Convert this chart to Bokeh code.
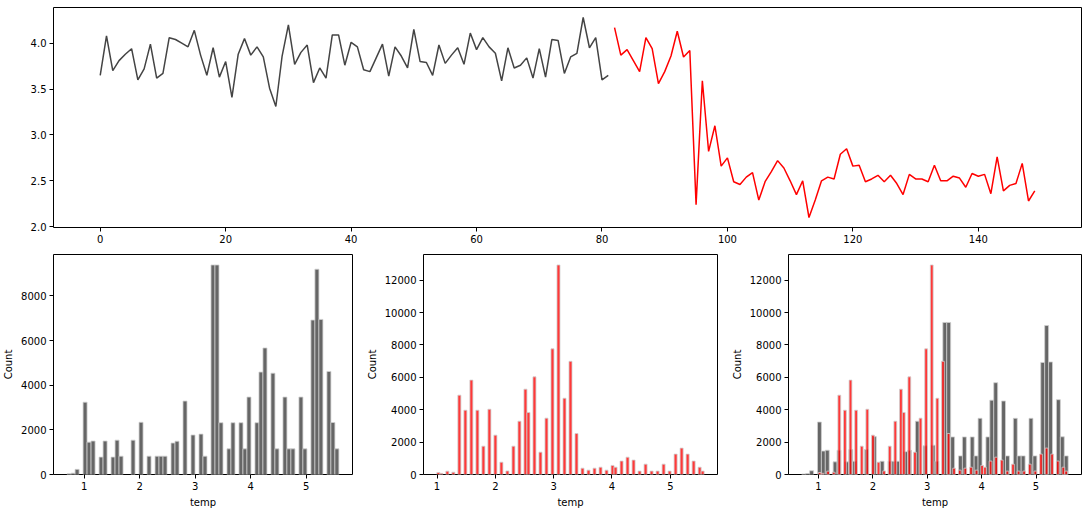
import numpy as np
from bokeh.plotting import figure
from bokeh.layouts import column, row
from bokeh.models import Range1d, FixedTicker, PrintfTickFormatter
from bokeh.embed import file_html
from bokeh.resources import INLINE

# ---------------- data ----------------
temp_before = [3.65, 4.08, 3.70, 3.81, 3.88, 3.94, 3.60, 3.72, 3.99, 3.62,
               3.67, 4.06, 4.04, 4.00, 3.96, 4.14, 3.87, 3.65, 3.95, 3.63,
               3.80, 3.41, 3.88, 4.05, 3.87, 3.96, 3.85, 3.51, 3.31, 3.86,
               4.20, 3.77, 3.90, 3.98, 3.57, 3.73, 3.62, 4.09, 4.09, 3.76,
               4.01, 3.96, 3.71, 3.69, 3.84, 3.99, 3.64, 3.96, 3.86, 3.73,
               4.15, 3.80, 3.79, 3.65, 3.98, 3.78, 3.87, 3.95, 3.77, 4.11,
               3.93, 4.06, 3.96, 3.89, 3.59, 3.95, 3.73, 3.76, 3.84, 3.62,
               3.94, 3.63, 4.04, 4.03, 3.67, 3.85, 3.89, 4.28, 3.95, 4.06,
               3.60, 3.65]
temp_after = [4.17, 3.87, 3.93, 3.81, 3.69, 4.06, 3.94, 3.56,
              3.69, 3.86, 4.13, 3.85, 3.92, 2.24, 3.59, 2.82, 3.10, 2.66,
              2.75, 2.49, 2.46, 2.54, 2.59, 2.29, 2.49, 2.60, 2.72, 2.64,
              2.50, 2.35, 2.50, 2.10, 2.29, 2.50, 2.54, 2.52, 2.79, 2.85,
              2.66, 2.67, 2.49, 2.52, 2.56, 2.49, 2.56, 2.47, 2.35, 2.57,
              2.52, 2.52, 2.49, 2.67, 2.50, 2.50, 2.55, 2.53, 2.43, 2.58,
              2.55, 2.57, 2.36, 2.76, 2.39, 2.45, 2.47, 2.69, 2.28, 2.39]

black_min, black_max = 0.694, 5.591
black_counts = [30, 60, 230, 0, 3240, 1450, 1500, 0, 780, 1500,
                0, 780, 1540, 820, 0, 0, 1540, 0, 2340, 0,
                820, 0, 820, 820, 820, 0, 1410, 1490, 0, 3290,
                0, 1770, 0, 1810, 820, 0, 9390, 9390, 2320, 0,
                1150, 2320, 0, 2320, 1150, 3470, 0, 2320, 4590, 5670,
                0, 4540, 1150, 0, 3470, 1150, 1150, 0, 3470, 1150,
                0, 6920, 9200, 6950, 0, 4620, 2330, 1150]

red_min, red_max = 0.997, 5.58
red_counts = [124, 70, 0, 206, 0, 140, 0, 4900, 0, 3970,
              0, 5830, 0, 3970, 0, 1750, 0, 4030, 0, 2430,
              0, 760, 0, 220, 0, 1750, 0, 3290, 0, 5270,
              3830, 0, 6030, 0, 1380, 0, 3480, 0, 7760, 0,
              12940, 0, 4710, 0, 6990, 0, 2530, 0, 390, 0,
              270, 0, 390, 0, 450, 0, 270, 0, 560, 450,
              0, 830, 0, 1070, 0, 890, 0, 210, 0, 640,
              0, 210, 0, 210, 0, 640, 0, 210, 0, 1260,
              0, 1630, 0, 1260, 0, 830, 0, 450, 210]

x_ticks_top = [0, 20, 40, 60, 80, 100, 120, 140]
y_ticks_top = [2.0, 2.5, 3.0, 3.5, 4.0]
hist_x_ticks = [1, 2, 3, 4, 5]
black_y_ticks = [0, 2000, 4000, 6000, 8000]
red_y_ticks = [0, 2000, 4000, 6000, 8000, 10000, 12000]

FONT = "DejaVu Sans"
LINE_BLACK = "#444444"
LINE_RED = "#ff0000"


def style(p):
    p.toolbar_location = None
    p.xgrid.visible = False
    p.ygrid.visible = False
    p.outline_line_color = "black"
    p.outline_line_width = 1
    p.outline_line_alpha = 1
    p.background_fill_color = "white"
    p.border_fill_color = "white"
    for ax in list(p.xaxis) + list(p.yaxis):
        ax.axis_line_color = None
        ax.major_tick_in = 0
        ax.major_tick_out = 4
        ax.major_tick_line_color = "black"
        ax.minor_tick_line_color = None
        ax.major_label_text_font = FONT
        ax.major_label_text_font_size = "10px"
        ax.major_label_text_color = "black"
        ax.major_label_standoff = 3
        ax.axis_label_text_font = FONT
        ax.axis_label_text_font_size = "10px"
        ax.axis_label_text_font_style = "normal"
        ax.axis_label_text_color = "black"
        ax.axis_label_standoff = 4


# ---------------- top line chart ----------------
x_before = list(range(len(temp_before)))
x_after = list(range(len(temp_before), len(temp_before) + len(temp_after)))
n_all = len(temp_before) + len(temp_after)
all_vals = temp_before + temp_after
ymin, ymax = min(all_vals), max(all_vals)
ypad = (ymax - ymin) * 0.05
xpad = (n_all - 1) * 0.05

top = figure(width=1088, height=250, output_backend="svg", toolbar_location=None,
             x_range=Range1d(-xpad, n_all - 1 + xpad),
             y_range=Range1d(ymin - ypad, ymax + ypad),
             min_border_left=53, min_border_right=7, min_border_top=7,
             min_border_bottom=23)
top.line(x_before, temp_before, line_color=LINE_BLACK, line_width=1.5)
top.line(x_after, temp_after, line_color=LINE_RED, line_width=1.5)
style(top)
top.xaxis.ticker = FixedTicker(ticks=x_ticks_top)
top.yaxis.ticker = FixedTicker(ticks=y_ticks_top)
top.yaxis.formatter = PrintfTickFormatter(format="%.1f")

# ---------------- histograms ----------------
black_edges = np.linspace(black_min, black_max, len(black_counts) + 1)
red_edges = np.linspace(red_min, red_max, len(red_counts) + 1)


def bars(p, edges, counts, color, alpha):
    c = np.array(counts, dtype=float)
    m = c > 0
    p.quad(left=edges[:-1][m], right=edges[1:][m], top=c[m], bottom=0,
           fill_color=color, fill_alpha=alpha,
           line_color="#cfcfcf", line_alpha=0.8, line_width=1)


bx_pad = (black_max - black_min) * 0.05
rx_pad = (red_max - red_min) * 0.05
by_top = max(black_counts) * 1.05
ry_top = max(red_counts) * 1.05

f1 = figure(width=363, height=262, output_backend="svg", toolbar_location=None,
            x_range=Range1d(black_min - bx_pad, black_max + bx_pad),
            y_range=Range1d(0, by_top),
            min_border_left=53, min_border_right=11, min_border_top=4,
            min_border_bottom=38)
bars(f1, black_edges, black_counts, "black", 0.6)

f2 = figure(width=365, height=262, output_backend="svg", toolbar_location=None,
            x_range=Range1d(red_min - rx_pad, red_max + rx_pad),
            y_range=Range1d(0, ry_top),
            min_border_left=55, min_border_right=11, min_border_top=4,
            min_border_bottom=38)
bars(f2, red_edges, red_counts, "red", 0.78)

f3 = figure(width=360, height=262, output_backend="svg", toolbar_location=None,
            x_range=Range1d(black_min - bx_pad, black_max + bx_pad),
            y_range=Range1d(0, ry_top),
            min_border_left=54, min_border_right=7, min_border_top=4,
            min_border_bottom=38)
bars(f3, black_edges, black_counts, "black", 0.6)
bars(f3, red_edges, red_counts, "red", 0.78)

for f, yt in ((f1, black_y_ticks), (f2, red_y_ticks), (f3, red_y_ticks)):
    style(f)
    f.xaxis.ticker = FixedTicker(ticks=hist_x_ticks)
    f.yaxis.ticker = FixedTicker(ticks=yt)
    f.xaxis.axis_label = "temp"
    f.yaxis.axis_label = "Count"

layout = column(top, row(f1, f2, f3))
open("out.html", "w").write(file_html(layout, INLINE))
